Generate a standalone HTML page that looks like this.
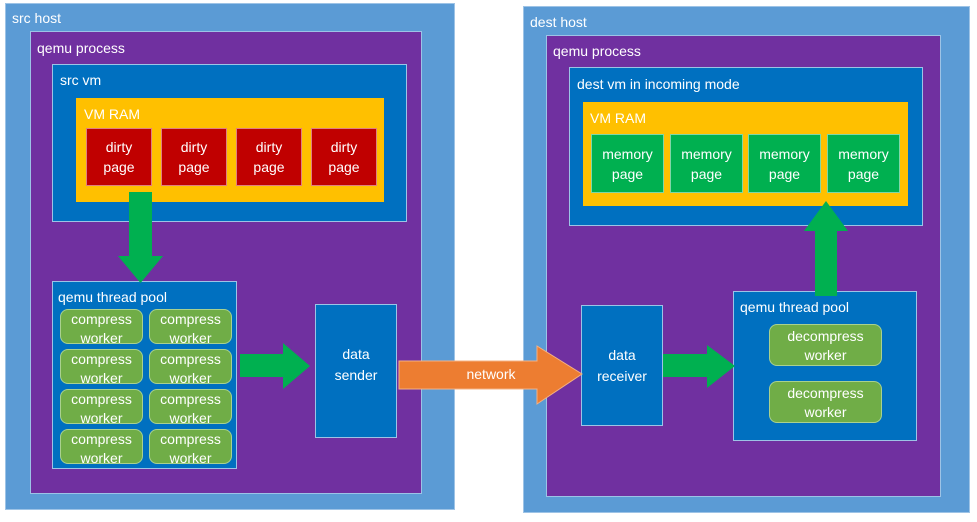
<!DOCTYPE html>
<html><head><meta charset="utf-8"><style>
body{margin:0;width:977px;height:522px;background:#fff;position:relative;overflow:hidden;font-family:"Liberation Sans",sans-serif;color:#fff}
div{position:absolute;box-sizing:border-box}
.b{border:1px solid #9dc3e6}
.lb{background:#5b9bd5}.pu{background:#7030a0}.bl{background:#0070c0}.ye{background:#ffc000}
.t{font-size:14px;white-space:nowrap}
.pg{background:#c00000;border:1px solid #e08080;text-align:center;font-size:14px;line-height:20px;padding-top:8px}
.mp{background:#00b050;border:1px solid #7fd7a7;text-align:center;font-size:14px;line-height:20px;padding-top:9px}
.w{background:#70ad47;border:1px solid #a9d18e;border-radius:8px;text-align:center;font-size:14px;line-height:19px;padding-top:0}
.c{text-align:center;font-size:14px;line-height:21px}
</style></head><body>
<!-- src -->
<div class="lb b" style="left:5px;top:3px;width:450px;height:507px"></div>
<div class="t" style="left:12px;top:10px">src host</div>
<div class="pu b" style="left:30px;top:31px;width:392px;height:463px"></div>
<div class="t" style="left:37px;top:40px">qemu process</div>
<div class="bl b" style="left:52px;top:64px;width:355px;height:158px"></div>
<div class="t" style="left:60px;top:72px">src vm</div>
<div class="ye" style="left:76px;top:98px;width:308px;height:104px"></div>
<div class="t" style="left:84px;top:106px">VM RAM</div>
<div class="pg" style="left:86px;top:128px;width:66px;height:58px">dirty<br>page</div>
<div class="pg" style="left:161px;top:128px;width:66px;height:58px">dirty<br>page</div>
<div class="pg" style="left:236px;top:128px;width:66px;height:58px">dirty<br>page</div>
<div class="pg" style="left:311px;top:128px;width:66px;height:58px">dirty<br>page</div>
<div class="bl b" style="left:52px;top:281px;width:185px;height:188px"></div>
<div class="t" style="left:58px;top:289px">qemu thread pool</div>
<div class="w" style="left:60px;top:309px;width:83px;height:35px">compress<br>worker</div>
<div class="w" style="left:149px;top:309px;width:83px;height:35px">compress<br>worker</div>
<div class="w" style="left:60px;top:349px;width:83px;height:35px">compress<br>worker</div>
<div class="w" style="left:149px;top:349px;width:83px;height:35px">compress<br>worker</div>
<div class="w" style="left:60px;top:389px;width:83px;height:35px">compress<br>worker</div>
<div class="w" style="left:149px;top:389px;width:83px;height:35px">compress<br>worker</div>
<div class="w" style="left:60px;top:429px;width:83px;height:35px">compress<br>worker</div>
<div class="w" style="left:149px;top:429px;width:83px;height:35px">compress<br>worker</div>
<div class="bl b c" style="left:315px;top:304px;width:82px;height:134px;padding-top:39px">data<br>sender</div>
<!-- dest -->
<div class="lb b" style="left:523px;top:6px;width:447px;height:507px"></div>
<div class="t" style="left:530px;top:14px">dest host</div>
<div class="pu b" style="left:546px;top:35px;width:395px;height:462px"></div>
<div class="t" style="left:553px;top:43px">qemu process</div>
<div class="bl b" style="left:569px;top:67px;width:354px;height:159px"></div>
<div class="t" style="left:577px;top:76px">dest vm in incoming mode</div>
<div class="ye" style="left:583px;top:102px;width:325px;height:104px"></div>
<div class="t" style="left:590px;top:110px">VM RAM</div>
<div class="mp" style="left:591px;top:134px;width:73px;height:59px">memory<br>page</div>
<div class="mp" style="left:670px;top:134px;width:73px;height:59px">memory<br>page</div>
<div class="mp" style="left:748px;top:134px;width:73px;height:59px">memory<br>page</div>
<div class="mp" style="left:827px;top:134px;width:73px;height:59px">memory<br>page</div>
<div class="bl b c" style="left:581px;top:305px;width:82px;height:121px;padding-top:39px">data<br>receiver</div>
<div class="bl b" style="left:733px;top:291px;width:184px;height:150px"></div>
<div class="t" style="left:740px;top:299px">qemu thread pool</div>
<div class="w" style="left:769px;top:324px;width:113px;height:42px;padding-top:2px">decompress<br>worker</div>
<div class="w" style="left:769px;top:381px;width:113px;height:42px;padding-top:2px">decompress<br>worker</div>
<svg width="977" height="522" style="position:absolute;left:0;top:0">
<polygon points="129,192 152,192 152,256 163,256 140.5,283 118,256 129,256" fill="#00b050"/>
<polygon points="240,354 283,354 283,343 310,366 283,389 283,377 240,377" fill="#00b050"/>
<polygon points="663,354 707,354 707,345 735,366 707,388 707,377 663,377" fill="#00b050"/>
<polygon points="815,296 837,296 837,231 848,231 826,201 804,231 815,231" fill="#00b050"/>
<polygon points="399,361 537,361 537,346 582,374 537,404 537,389 399,389" fill="#ed7d31" stroke="#f4b183" stroke-width="1"/>
<text x="491" y="379" fill="#fff" font-size="14" text-anchor="middle" font-family="Liberation Sans, sans-serif">network</text>
</svg>
</body></html>
